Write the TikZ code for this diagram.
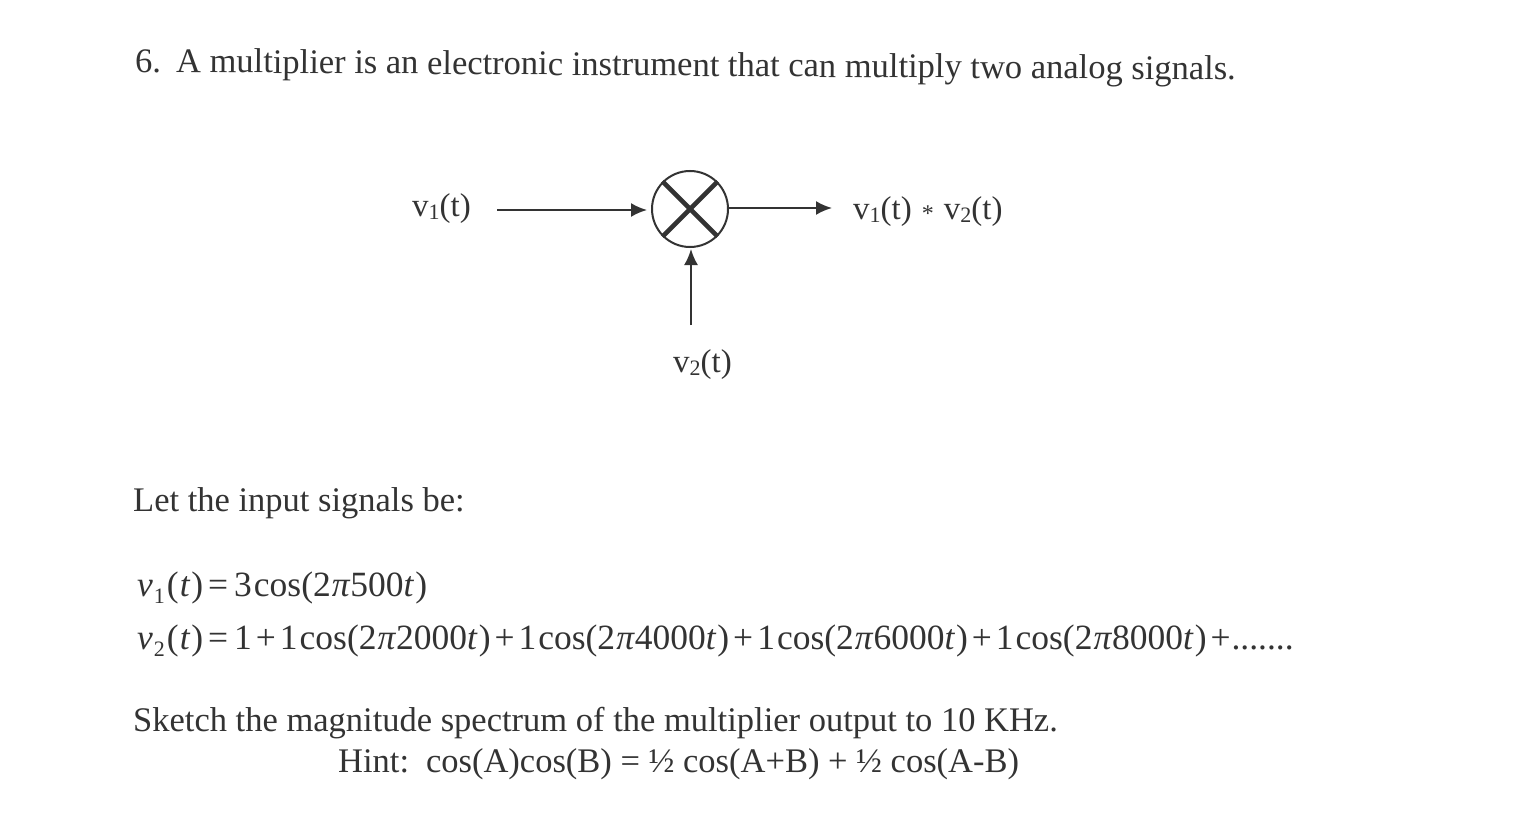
\documentclass[tikz,border=0pt]{standalone}
\usepackage{fontspec}
\setmainfont{Liberation Serif}
\usetikzlibrary{arrows.meta}
\definecolor{ink}{gray}{0.2}
\newcommand{\sz}[1]{\fontsize{#1}{#1}\selectfont}
\newcommand{\subd}[1]{\raisebox{-0.12em}{\fontsize{22}{22}\selectfont #1}}
\newcommand{\vone}{v\subd{1}(t)}
\newcommand{\vtwo}{v\subd{2}(t)}
\newcommand{\mv}[1]{\textit{v}\kern1pt\raisebox{-0.22em}{\fontsize{22}{22}\selectfont #1}\kern2pt(\kern1pt\textit{t}\kern1pt)}
\newcommand{\tp}{2\kern1pt\textit{π}}
\tikzset{
  txt/.style={anchor=base west,inner sep=0pt,text=ink,font=\sz{34.5}},
  lab/.style={anchor=base west,inner sep=0pt,text=ink,font=\sz{33}},
  eq/.style={anchor=base west,inner sep=0pt,text=ink,font=\sz{35.5}},
  sig/.style={draw=ink,line width=2pt,-{Latex[length=16pt,width=14pt]}},
  xbar/.style={draw=ink,line width=4.6pt},
  mult/.style={circle,draw=ink,line width=2pt,minimum size=76pt,inner sep=0pt}
}
\begin{document}
\begin{tikzpicture}[x=1pt,y=-1pt]
\useasboundingbox[fill=white] (0,0) rectangle (1522,824);
\node[txt,rotate=-0.42] (title) at (135,72) {6.\kern15pt A multiplier is an electronic instrument that can multiply two analog signals.};
\node[lab] (lv1) at (412,216) {\vone\kern1pt};
\node[lab] (lout) at (853,219) {\vone\kern10pt\raisebox{-0.08em}{\fontsize{24}{24}\selectfont *}\kern10pt\vtwo};
\node[lab] (lv2) at (673,372) {\vtwo};
\node[mult] (m) at (690,209) {};
\coordinate (in1) at (497,210);
\coordinate (out) at (832,208);
\coordinate (in2) at (691,325);
\draw[xbar] (m.45) -- (m.225);
\draw[xbar] (m.135) -- (m.315);
\draw[sig,shorten >=4pt] (in1) -- (m.west |- in1);
\draw[sig] (m.east |- out) -- (out);
\draw[sig,shorten >=1pt] (in2) -- (in2 |- m.south);
\node[txt] (let) at (133,511) {Let the input signals be:};
\node[eq] (e1) at (137,596) {\mv{1}\kern5pt=\kern6pt3\kern2pt cos(\tp500\textit{t}\kern1pt)};
\node[eq] (e2) at (137,649) {\mv{2}\kern5pt=\kern6pt1\kern4pt+\kern4pt1\kern2pt cos(\tp2000\textit{t}\kern1pt)\kern4pt+\kern4pt1\kern2pt cos(\tp4000\textit{t}\kern1pt)\kern4pt+\kern4pt1\kern2pt cos(\tp6000\textit{t}\kern1pt)\kern4pt+\kern4pt1\kern2pt cos(\tp8000\textit{t}\kern1pt)\kern4pt+\kern1pt.......};
\node[txt] (sk) at (133,731) {Sketch the magnitude spectrum of the multiplier output to 10 KHz.};
\node[txt] (hint) at (338,772) {Hint:\kern17pt cos(A)cos(B) = ½ cos(A+B) + ½ cos(A-B)};
\end{tikzpicture}
\end{document}
